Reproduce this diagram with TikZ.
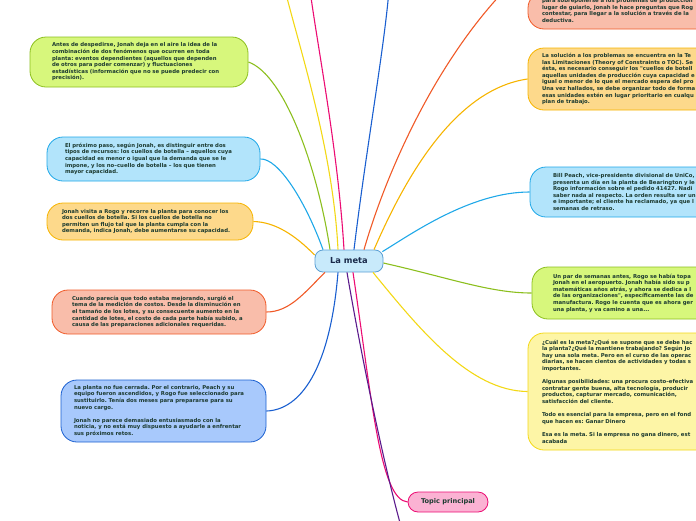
\documentclass[tikz,border=0pt]{standalone}
\usepackage{fontspec}
\newfontfamily\dv{DejaVu Sans}
\definecolor{txt}{HTML}{1C3A30}
\definecolor{gfill}{HTML}{D7F77C}\definecolor{gline}{HTML}{8CBF1E}
\definecolor{lbfill}{HTML}{B2E4FB}\definecolor{lbline}{HTML}{1FA8E8}
\definecolor{ofill}{HTML}{FDD98B}\definecolor{oline}{HTML}{F6B400}
\definecolor{sfill}{HTML}{F9BDAA}\definecolor{sline}{HTML}{F05A28}
\definecolor{bfill}{HTML}{A8C9FC}\definecolor{bline}{HTML}{1A5FD0}
\definecolor{yfill}{HTML}{FDF5A6}\definecolor{yline}{HTML}{F3D816}
\definecolor{pfill}{HTML}{FBB2D3}\definecolor{pline}{HTML}{EC0C73}
\definecolor{mfill}{HTML}{C8EAFB}\definecolor{mline}{HTML}{5A9FD4}
\definecolor{purp}{HTML}{5B1A8C}
\definecolor{mtxt}{HTML}{1A2A4A}
\frenchspacing
\tikzset{
  topic/.style={draw, line width=0.8pt, rounded corners=16pt, text=txt, align=left,
    inner ysep=0pt, font=\dv\bfseries\fontsize{5.35}{6.6}\selectfont},
  conn/.style={line width=1.1pt}
}
\begin{document}
\begin{tikzpicture}[x=1pt,y=-1pt]
\useasboundingbox (0,0) rectangle (696,520);
\clip (0,0) rectangle (696,520);

% central
\node[draw=mline, fill=mfill, line width=0.8pt, rounded corners=8pt, minimum width=68pt, minimum height=22pt,
  inner sep=0pt, text=mtxt, font=\dv\bfseries\fontsize{8.3}{9}\selectfont] (m) at (349,261) {La meta};

% left nodes
\node[topic, fill=gfill, draw=gline, minimum width=218pt, minimum height=50pt, inner xsep=22pt, text width=174pt] (a) at (139,62)
{Antes de despedirse, Jonah deja en el aire la idea de la\\combinación de dos fenómenos que ocurren en toda\\planta: eventos dependientes (aquellos que dependen\\de otros para poder comenzar) y fluctuaciones\\estadísticas (información que no se puede predecir con\\precisión).};

\node[topic, fill=lbfill, draw=lbline, minimum width=213pt, minimum height=44pt, inner xsep=18pt, text width=177pt] (b) at (153.5,159)
{El próximo paso, según Jonah, es distinguir entre dos\\tipos de recursos: los cuellos de botella – aquellos cuya\\capacidad es menor o igual que la demanda que se le\\impone, y los no–cuello de botella – los que tienen\\mayor capacidad.};

\node[topic, fill=ofill, draw=oline, minimum width=206pt, minimum height=37pt, inner xsep=15pt, text width=176pt] (c) at (150,221.5)
{Jonah visita a Rogo y recorre la planta para conocer los\\dos cuellos de botella. Si los cuellos de botella no\\permiten un flujo tal que la planta cumpla con la\\demanda, indica Jonah, debe aumentarse su capacidad.};

\node[topic, fill=sfill, draw=sline, minimum width=214pt, minimum height=44pt, inner xsep=20pt, text width=174pt] (d) at (159,312)
{Cuando parecía que todo estaba mejorando, surgió el\\tema de la medición de costos. Desde la disminución en\\el tamaño de los lotes, y su consecuente aumento en la\\cantidad de lotes, el costo de cada parte había subido, a\\causa de las preparaciones adicionales requeridas.};

\node[topic, fill=bfill, draw=bline, minimum width=205pt, minimum height=62pt, inner xsep=13pt, text width=179pt] (e) at (163.5,411)
{La planta no fue cerrada. Por el contrario, Peach y su\\equipo fueron ascendidos, y Rogo fue seleccionado para\\sustituirlo. Tenía dos meses para prepararse para su\\nuevo cargo.\\[6.6pt]Jonah no parece demasiado entusiasmado con la\\noticia, y no está muy dispuesto a ayudarle a enfrentar\\sus próximos retos.};

% right nodes
\node[topic, fill=sfill, draw=sline, minimum width=212pt, minimum height=37pt, inner xsep=14pt, text width=184pt] (f) at (634,10.5)
{para sobreponerse a los problemas de producción\\lugar de guiarlo, Jonah le hace preguntas que Rog\\contestar, para llegar a la solución a través de la\\deductiva.};

\node[topic, fill=ofill, draw=oline, minimum width=212pt, minimum height=62pt, inner xsep=14pt, text width=184pt] (g) at (634,79)
{La solución a los problemas se encuentra en la Te\\las Limitaciones (Theory of Constraints o TOC). Se\\ésta, es necesario conseguir los "cuellos de botell\\aquellas unidades de producción cuya capacidad e\\igual o menor de lo que el mercado espera del pro\\Una vez hallados, se debe organizar todo de forma\\esas unidades estén en lugar prioritario en cualqu\\plan de trabajo.};

\node[topic, fill=lbfill, draw=lbline, minimum width=212pt, minimum height=50pt, inner xsep=23pt, text width=166pt] (h) at (636,192)
{Bill Peach, vice-presidente divisional de UniCo,\\presenta un día en la planta de Bearington y le\\Rogo información sobre el pedido 41427. Nadi\\saber nada al respecto. La orden resulta ser un\\e importante; el cliente ha reclamado, ya que l\\semanas de retraso.};

\node[topic, fill=gfill, draw=gline, minimum width=212pt, minimum height=52pt, inner xsep=21pt, text width=170pt] (i) at (638,293)
{Un par de semanas antes, Rogo se había topa\\Jonah en el aeropuerto. Jonah había sido su p\\matemáticas años atrás, y ahora se dedica a l\\de las organizaciones", específicamente las de\\manufactura. Rogo le cuenta que es ahora ger\\una planta, y va camino a una...};

\node[topic, fill=yfill, draw=yline, minimum width=212pt, minimum height=117pt, inner xsep=14pt, text width=184pt] (j) at (634,391.5)
{¿Cuál es la meta?¿Qué se supone que se debe hac\\la planta?¿Qué la mantiene trabajando? Según Jo\\hay una sola meta. Pero en el curso de las operac\\diarias, se hacen cientos de actividades y todas s\\importantes.\\[6.6pt]Algunas posibilidades: una procura costo–efectiva\\contratar gente buena, alta tecnología, producir\\productos, capturar mercado, comunicación,\\satisfacción del cliente.\\[6.6pt]Todo es esencial para la empresa, pero en el fond\\que hacen es: Ganar Dinero\\[6.6pt]Esa es la meta. Si la empresa no gana dinero, est\\acabada};

\node[draw=pline, fill=pfill, line width=0.8pt, rounded corners=10pt, minimum width=80pt, minimum height=20pt,
  inner sep=0pt, text=txt, font=\dv\bfseries\fontsize{6.6}{7}\selectfont] (k) at (448,502) {Topic principal};

% off-image ends
\coordinate (ty) at (285,-10);
\coordinate (tp) at (310,-10);
\coordinate (tb) at (389,-10);
\coordinate (tf) at (520,-25);
\coordinate (bp) at (402,530);

% connectors
\draw[conn, draw=lbline] ([xshift=-26pt]m.north) .. controls (305,200) and (278,158) .. (b.east);
\draw[conn, draw=gline] ([xshift=-19pt]m.north) .. controls (318,170) and (285,75) .. (a.east);
\draw[conn, draw=yline] ([xshift=-11pt]m.north) .. controls (333,150) and (300,50) .. (ty);
\draw[conn, draw=pline] ([xshift=-5pt]m.north) .. controls (338,150) and (318,50) .. (tp);
\draw[conn, draw=bline] ([xshift=5pt]m.north) .. controls (366,150) and (384,50) .. (tb);
\draw[conn, draw=sline] ([xshift=15pt]m.north) .. controls (390,160) and (445,45) .. (tf);
\draw[conn, draw=oline] ([xshift=25pt]m.north) .. controls (400,190) and (450,90) .. (g.west);
\draw[conn, draw=lbline] ([xshift=-1pt,yshift=-2pt]m.north east) .. controls (410,235) and (470,192) .. (h.west);
\draw[conn, draw=gline] ([yshift=-2pt]m.east) .. controls (450,278) and (490,293) .. (i.west);
\draw[conn, draw=yline] ([xshift=24pt]m.south) .. controls (420,330) and (470,391) .. (j.west);
\draw[conn, draw=pline] ([xshift=4pt]m.south) .. controls (372,400) and (380,500) .. (k.west);
\draw[conn, draw=purp] ([xshift=-2pt]m.south) .. controls (362,360) and (385,470) .. (bp);
\draw[conn, draw=bline] ([xshift=-11pt]m.south) .. controls (330,370) and (300,410) .. (e.east);
\draw[conn, draw=sline] ([xshift=-24pt]m.south) .. controls (305,292) and (290,312) .. (d.east);
\draw[conn, draw=oline] ([yshift=6pt]m.west) .. controls (295,235) and (275,222) .. (c.east);
\end{tikzpicture}
\end{document}
